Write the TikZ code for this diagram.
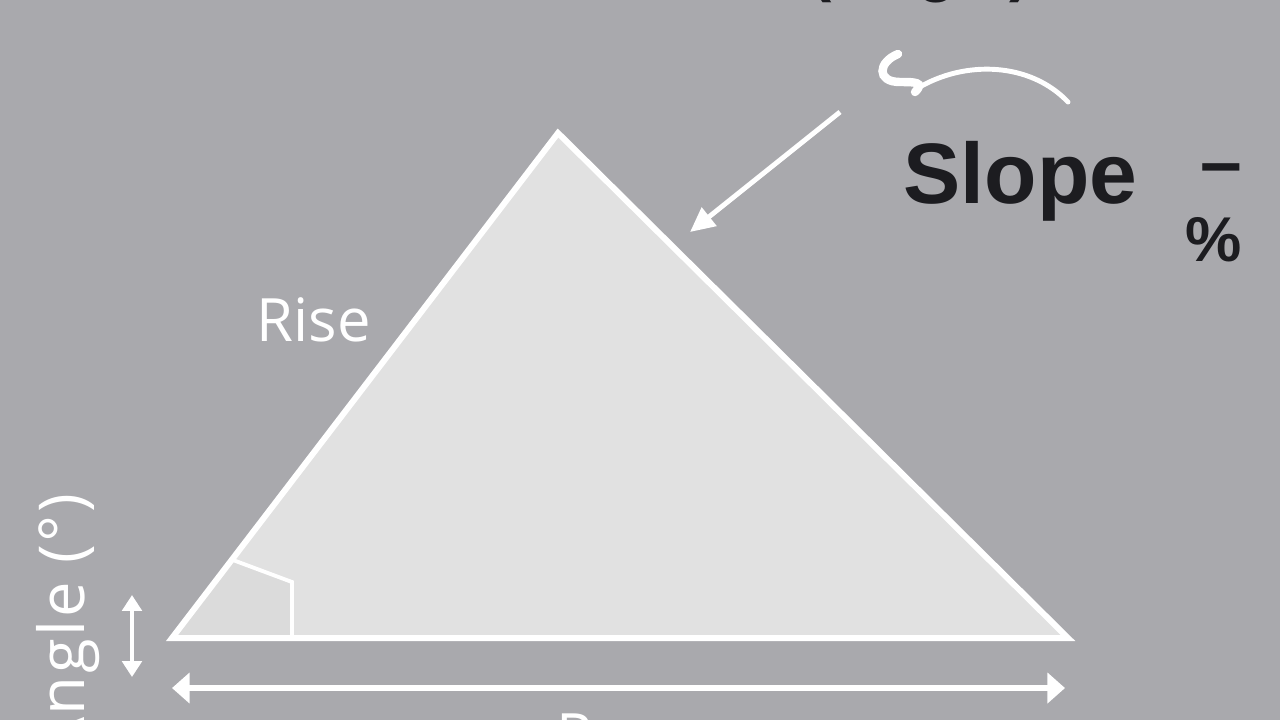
\documentclass[tikz,border=0pt]{standalone}
\usepackage{fontspec}
\setmainfont{Open Sans}
\newfontfamily\headfont{Liberation Sans}
\usetikzlibrary{positioning, arrows.meta, calc}

\definecolor{bggray}{HTML}{A9A9AD}
\definecolor{facegray}{HTML}{E1E1E1}
\definecolor{cornergray}{HTML}{DBDBDB}
\definecolor{inkblack}{HTML}{1C1C20}

\begin{document}
\begin{tikzpicture}[
    x=0.01cm, y=-0.01cm,
    whiteline/.style={draw=white, line width=1.7pt},
    whitetext/.style={text=white, inner sep=0pt, font=\fontsize{17}{20}\selectfont},
    slopetext/.style={text=inkblack, inner sep=0pt, font=\headfont\bfseries\fontsize{24.4}{28}\selectfont}
]

% canvas
\useasboundingbox (0,0) rectangle (1280,720);
\fill[bggray] (0,0) rectangle (1280,720);
\clip (0,0) rectangle (1280,720);

% triangle corners
\coordinate (left) at (172,638);
\coordinate (apex) at (558,133);
\coordinate (right) at (1068,638);
\coordinate (mark a) at (233,560);
\coordinate (mark b) at (292,582);
\coordinate (mark c) at (292,638);

% triangle
\fill[cornergray] (left) -- (mark a) -- (mark b) -- (mark c) -- cycle;
\fill[facegray] (mark a) -- (apex) -- (right) -- (mark c) -- (mark b) -- cycle;
\draw[whiteline] (left) -- (apex) -- (right) -- cycle;
\draw[white, line width=1.1pt] (mark a) -- (mark b) -- (mark c);

% labels
\node[whitetext, anchor=base west] (rise) at (256,341) {Rise};
\node[whitetext, font=\fontsize{18}{20}\selectfont\addfontfeature{LetterSpace=4}, rotate=90, anchor=base east] (angle) at (84,493) {Angle (°)};
\node[whitetext, anchor=north west] (run) at (556,713) {Run};
\node[slopetext, font=\headfont\bfseries\fontsize{18.2}{22}\selectfont, anchor=base west] (unit) at (810,-11) {(Angle)};
\node[slopetext, anchor=base west] (slope) at (903,203) {Slope};
\node[slopetext, font=\headfont\bfseries\fontsize{21.3}{24}\selectfont, anchor=base] (bar) at (1221,187) {–};
\node[slopetext, font=\headfont\bfseries\fontsize{18}{22}\selectfont, anchor=base west] (pct) at (1185,261) {\%};

% arrows
\coordinate (tail) at (840,112);
\coordinate (tip) at (690,232);
\draw[white, line width=1.4pt, -{Triangle[length=7pt, width=6.5pt]}] (tail) -- (tip);

\coordinate (run l) at (172,688);
\coordinate (run r) at (1065,688);
\draw[whiteline, {Triangle[length=5pt, width=8.5pt]}-{Triangle[length=5pt, width=8.5pt]}] (run l) -- (run r);

\coordinate (up) at (132,595);
\coordinate (down) at (132,677);
\draw[white, line width=1.1pt, {Triangle[length=4.5pt, width=5.5pt]}-{Triangle[length=4.5pt, width=5.5pt]}] (up) -- (down);

% squiggle
\coordinate (sq a) at (918,88);
\coordinate (sq b) at (1068,102);
\draw[white, line width=1.4pt, line cap=round] (sq a) .. controls (965,60) and (1030,62) .. (sq b);
\draw[white, line width=2.4pt, line cap=round] (898,54) .. controls (878,62) and (876,82) .. (900,82)
    .. controls (915,82) and (925,82) .. (915,92);

\end{tikzpicture}
\end{document}
